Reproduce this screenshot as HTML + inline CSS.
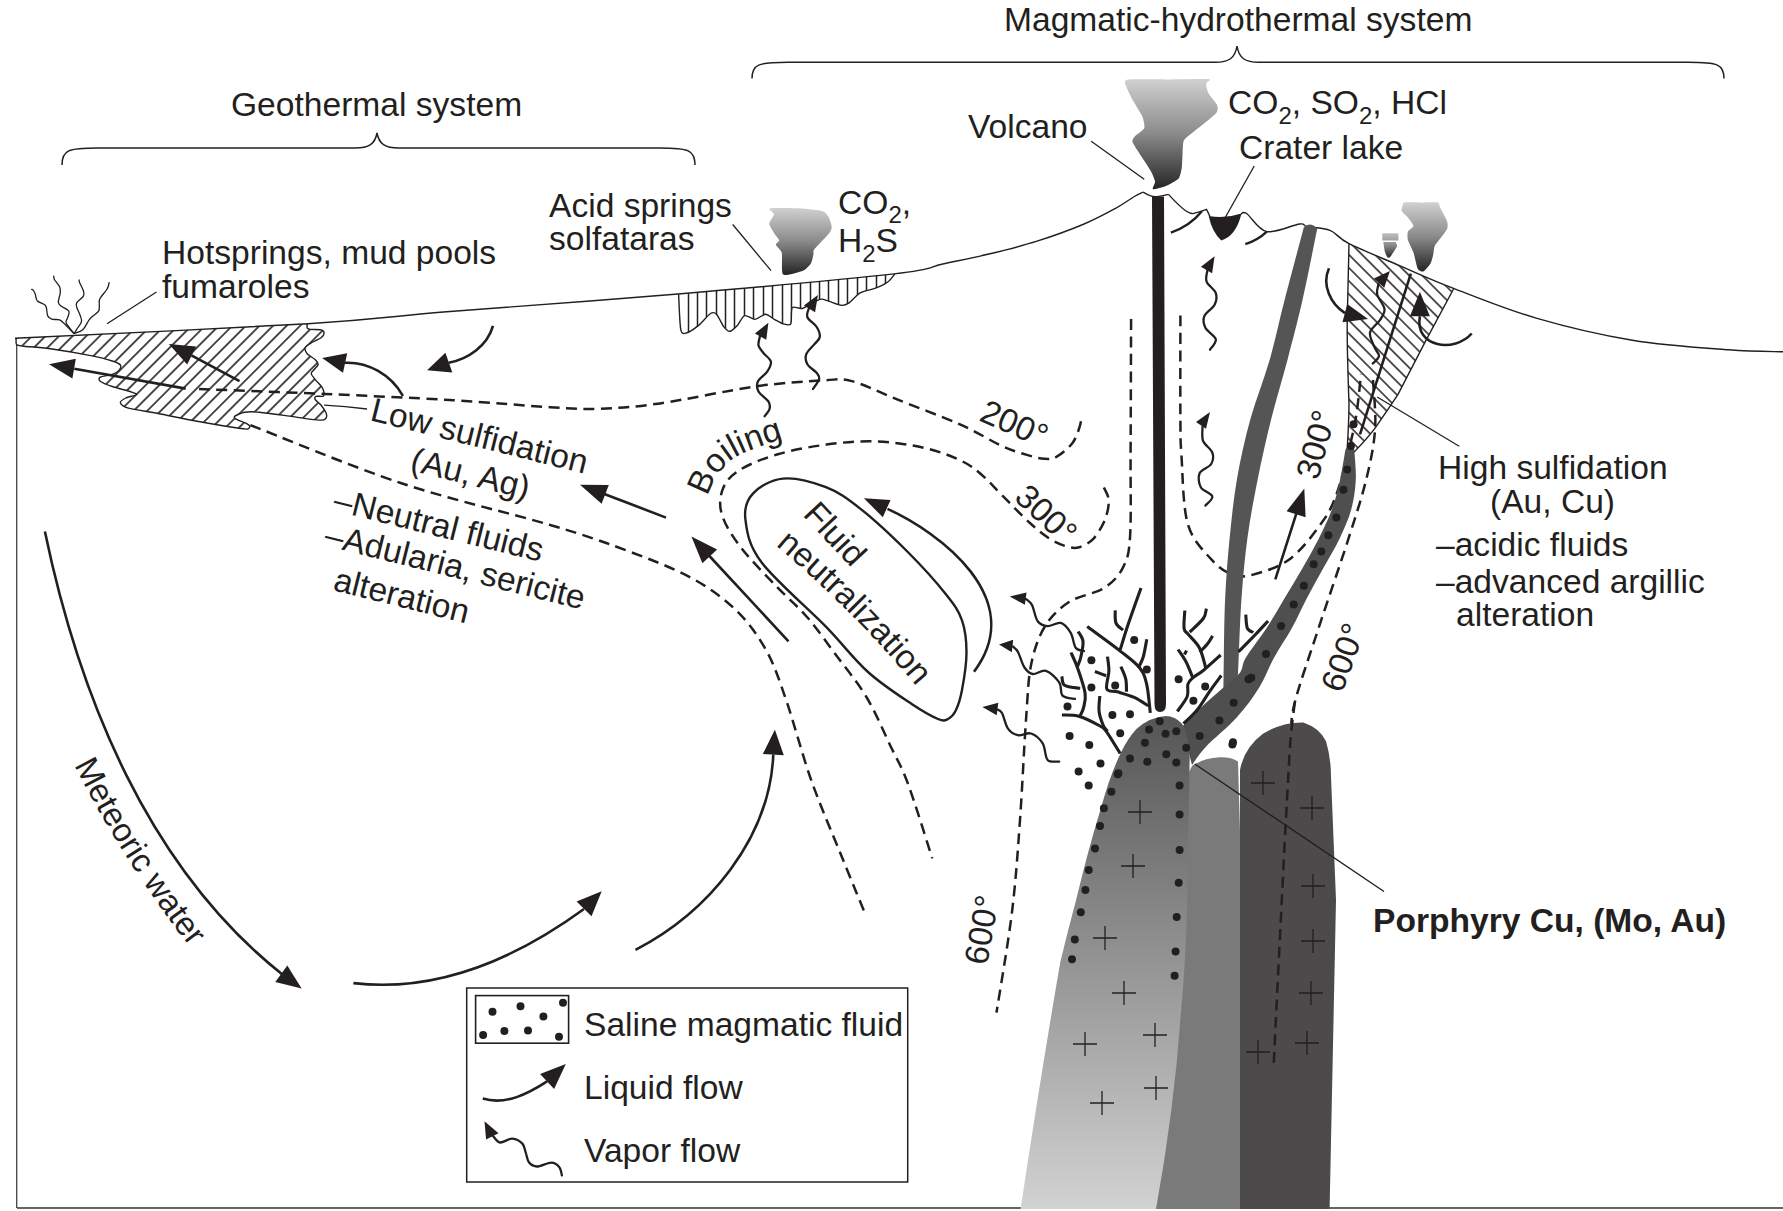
<!DOCTYPE html><html><head><meta charset="utf-8"><style>html,body{margin:0;padding:0;background:#fff;overflow:hidden}</style></head><body><svg width="1783" height="1211" viewBox="0 0 1783 1211" style="display:block">
<defs>
<pattern id="hatch1" patternUnits="userSpaceOnUse" width="9.6" height="9.6" patternTransform="rotate(45) translate(5.8,0)">
<line x1="4.8" y1="-1" x2="4.8" y2="11" stroke="#231f20" stroke-width="1.6"/></pattern>
<pattern id="hatch2" patternUnits="userSpaceOnUse" width="9.3" height="9.3" patternTransform="rotate(-45) translate(-2.83,0)">
<line x1="4.65" y1="-1" x2="4.65" y2="10.3" stroke="#231f20" stroke-width="1.5"/></pattern>
<pattern id="vhatch" patternUnits="userSpaceOnUse" width="9.4" height="9.4" x="687.5">
<line x1="0" y1="-1" x2="0" y2="10.4" stroke="#231f20" stroke-width="1.6"/></pattern>
<linearGradient id="plume" x1="0" y1="0" x2="0" y2="1">
<stop offset="0" stop-color="#c4c4c4"/><stop offset="0.5" stop-color="#7a7a7a"/><stop offset="1" stop-color="#1e1e1e"/></linearGradient>
<linearGradient id="intr1" gradientUnits="userSpaceOnUse" x1="0" y1="716" x2="0" y2="1208">
<stop offset="0" stop-color="#555"/><stop offset="1" stop-color="#d2d2d2"/></linearGradient>
<linearGradient id="intr2" gradientUnits="userSpaceOnUse" x1="0" y1="757" x2="0" y2="1208">
<stop offset="0" stop-color="#858585"/><stop offset="1" stop-color="#777"/></linearGradient>
</defs>
<rect width="1783" height="1211" fill="#fff"/>
<g font-family="&quot;Liberation Sans&quot;, sans-serif" fill="#231f20">
<line x1="16.7" y1="344.0" x2="16.7" y2="1208.0" stroke="#444" stroke-width="1.3"/>
<line x1="17.0" y1="1208.0" x2="1783.0" y2="1208.0" stroke="#333" stroke-width="1.6"/>
<path d="M62,165 C62,150 68,148 98,148 L355,148 C369,148 375,144 377,133 C379,144 385,148 399,148 L659,148 C689,148 695,150 695,165" fill="none" stroke="#231f20" stroke-width="1.5"/>
<path d="M752,78.5 C752,64.3 758,62.3 788,62.3 L1215,62.3 C1229,62.3 1235,58.3 1237,46 C1239,58.3 1245,62.3 1259,62.3 L1688,62.3 C1718,62.3 1724,64.3 1724,78.5" fill="none" stroke="#231f20" stroke-width="1.5"/>
<text x="231" y="116" font-size="33.6" font-weight="normal" text-anchor="start">Geothermal system</text>
<text x="1004" y="31" font-size="33.6" font-weight="normal" text-anchor="start">Magmatic-hydrothermal system</text>
<text x="162" y="264" font-size="33.6" font-weight="normal" text-anchor="start">Hotsprings, mud pools</text>
<text x="162" y="298" font-size="33.6" font-weight="normal" text-anchor="start">fumaroles</text>
<text x="549" y="217" font-size="33.6" font-weight="normal" text-anchor="start">Acid springs</text>
<text x="549" y="250" font-size="33.6" font-weight="normal" text-anchor="start">solfataras</text>
<text x="838" y="214" font-size="33.6" font-weight="normal" text-anchor="start">CO<tspan font-size="24" dy="9">2</tspan><tspan dy="-9">,</tspan></text>
<text x="838" y="252" font-size="33.6" font-weight="normal" text-anchor="start">H<tspan font-size="24" dy="10">2</tspan><tspan dy="-10">S</tspan></text>
<text x="968" y="138" font-size="33.6" font-weight="normal" text-anchor="start">Volcano</text>
<text x="1228" y="114" font-size="33.6" font-weight="normal" text-anchor="start">CO<tspan font-size="24" dy="9.5">2</tspan><tspan dy="-9.5">, SO</tspan><tspan font-size="24" dy="9.5">2</tspan><tspan dy="-9.5">, HCl</tspan></text>
<text x="1239" y="159" font-size="33.6" font-weight="normal" text-anchor="start">Crater lake</text>
<path d="M15.0,338.3 C63.8,335.9 235.5,328.2 308.0,323.7 C380.5,319.2 388.3,316.4 450.0,311.5 C511.7,306.6 604.0,300.3 678.0,294.0 C752.0,287.7 850.0,278.9 894.1,273.9 C938.2,268.9 926.8,267.4 942.8,264.0 C958.8,260.6 974.2,257.6 989.9,253.8 C1005.6,250.0 1021.3,246.2 1037.0,241.2 C1052.7,236.2 1071.0,229.5 1084.1,224.0 C1097.2,218.5 1107.2,212.9 1115.6,208.3 C1124.0,203.7 1129.8,199.2 1134.4,196.5 C1139.0,193.8 1141.6,192.8 1143.1,192.0" fill="none" stroke="#231f20" stroke-width="1.4"/>
<path d="M1143.1,192.1 Q1152,197.5 1157,196.6 Q1163,196 1168.5,194.4" fill="none" stroke="#231f20" stroke-width="1.4"/>
<path d="M1168.5,194.4 Q1180,207 1186,211 Q1190,213.6 1192.7,213.6 Q1200,212 1206.5,209.3 Q1208,212 1209.8,216.2" fill="none" stroke="#231f20" stroke-width="1.4"/>
<path d="M1241.0,214.0 C1241.9,213.9 1242.3,210.6 1246.6,213.5 C1250.9,216.4 1258.0,229.8 1266.8,231.6 C1275.6,233.3 1292.9,224.8 1299.6,224.0 C1306.3,223.2 1301.9,225.5 1307.0,226.6 C1312.1,227.7 1323.0,227.6 1330.0,230.4 C1337.0,233.2 1337.3,237.7 1349.0,243.6 C1360.7,249.5 1382.8,258.4 1400.2,265.9 C1417.6,273.3 1430.8,279.6 1453.5,288.3 C1476.2,297.0 1506.4,309.5 1536.2,318.1 C1566.0,326.8 1600.3,334.9 1632.4,340.2 C1664.5,345.5 1703.5,347.9 1728.6,349.8 C1753.7,351.7 1773.9,351.5 1783.0,351.8" fill="none" stroke="#231f20" stroke-width="1.4"/>
<path d="M1208.7,216 Q1225,219 1241.5,213.5 Q1236,236 1221.3,240.5 Q1212,232 1208.7,216Z" fill="#231f20"/>
<path d="M1170.9,232.7 Q1190,226 1201.9,211.3" fill="none" stroke="#231f20" stroke-width="2.4"/>
<path d="M1245.3,244.2 Q1258,240 1266.8,231.6" fill="none" stroke="#231f20" stroke-width="2.4"/>
<path d="M307.2,324.0 C307.2,324.5 306.8,327.2 307.2,327.9 C307.6,328.6 308.3,329.1 310.2,329.4 C312.1,329.7 319.2,329.4 321.1,329.9 C323.0,330.4 324.1,331.8 324.1,332.9 C324.1,334.0 322.8,336.5 321.1,337.8 C319.4,339.1 313.3,341.5 311.2,342.8 C309.1,344.1 305.7,346.2 305.2,347.7 C304.7,349.2 305.9,352.1 307.2,353.7 C308.5,355.3 313.6,358.1 315.1,359.6 C316.6,361.1 318.2,363.3 318.1,364.6 C318.0,365.9 315.1,368.3 314.2,369.5 C313.3,370.7 311.1,372.2 311.2,373.5 C311.3,374.8 313.6,377.5 315.1,379.4 C316.6,381.3 320.9,385.5 322.1,387.4 C323.3,389.3 324.0,392.1 324.1,393.3 C324.2,394.5 324.2,395.9 323.1,396.3 C322.0,396.7 317.2,395.9 316.1,396.3 C315.0,396.7 314.4,398.1 315.1,399.3 C315.8,400.5 319.6,403.4 321.1,405.2 C322.6,407.0 325.4,411.4 326.1,413.1 C326.8,414.8 326.6,417.2 326.1,418.1 C325.6,419.0 324.4,420.0 322.1,420.1 C319.8,420.2 313.6,419.6 309.2,419.1 C304.8,418.6 296.0,417.0 289.4,416.1 C282.8,415.2 265.5,412.7 259.6,412.2 C253.7,411.7 248.1,411.7 244.8,412.2 C241.5,412.7 236.1,415.2 234.9,416.1 C233.7,417.0 234.4,418.2 235.9,419.1 C237.4,420.0 244.0,422.2 245.8,423.1 C247.6,424.0 249.4,425.2 249.7,426.0 C250.0,426.8 249.3,428.7 247.8,429.0 C246.3,429.3 245.4,429.3 238.8,428.3 C232.2,427.3 209.3,423.5 198.5,421.5 C187.7,419.5 167.4,415.3 158.1,413.5 C148.8,411.7 133.5,409.5 128.5,408.1 C123.5,406.7 120.8,404.0 120.4,402.7 C120.0,401.4 123.7,399.1 125.8,398.0 C127.9,396.9 135.8,395.4 136.5,394.6 C137.2,393.8 134.3,393.0 131.1,391.9 C127.9,390.8 116.4,387.9 112.3,386.5 C108.2,385.1 101.8,382.5 100.2,381.2 C98.6,379.9 98.6,378.0 100.2,377.1 C101.8,376.2 109.8,375.3 112.3,374.4 C114.8,373.5 117.9,371.7 119.0,370.4 C120.1,369.1 121.3,366.3 120.4,365.0 C119.5,363.7 116.2,362.3 112.3,361.0 C108.4,359.7 99.1,357.2 90.8,355.6 C82.5,354.0 59.4,350.1 50.4,348.8 C41.4,347.5 28.0,346.7 23.5,346.2 C19.0,345.7 17.7,345.6 16.7,344.8 C15.7,344.0 16.2,340.9 16.1,340.0 C16.0,339.1 16.1,338.4 16.1,338.1 L307.2,324Z" fill="url(#hatch1)"/>
<path d="M307.2,324.0 C307.2,324.5 306.8,327.2 307.2,327.9 C307.6,328.6 308.3,329.1 310.2,329.4 C312.1,329.7 319.2,329.4 321.1,329.9 C323.0,330.4 324.1,331.8 324.1,332.9 C324.1,334.0 322.8,336.5 321.1,337.8 C319.4,339.1 313.3,341.5 311.2,342.8 C309.1,344.1 305.7,346.2 305.2,347.7 C304.7,349.2 305.9,352.1 307.2,353.7 C308.5,355.3 313.6,358.1 315.1,359.6 C316.6,361.1 318.2,363.3 318.1,364.6 C318.0,365.9 315.1,368.3 314.2,369.5 C313.3,370.7 311.1,372.2 311.2,373.5 C311.3,374.8 313.6,377.5 315.1,379.4 C316.6,381.3 320.9,385.5 322.1,387.4 C323.3,389.3 324.0,392.1 324.1,393.3 C324.2,394.5 324.2,395.9 323.1,396.3 C322.0,396.7 317.2,395.9 316.1,396.3 C315.0,396.7 314.4,398.1 315.1,399.3 C315.8,400.5 319.6,403.4 321.1,405.2 C322.6,407.0 325.4,411.4 326.1,413.1 C326.8,414.8 326.6,417.2 326.1,418.1 C325.6,419.0 324.4,420.0 322.1,420.1 C319.8,420.2 313.6,419.6 309.2,419.1 C304.8,418.6 296.0,417.0 289.4,416.1 C282.8,415.2 265.5,412.7 259.6,412.2 C253.7,411.7 248.1,411.7 244.8,412.2 C241.5,412.7 236.1,415.2 234.9,416.1 C233.7,417.0 234.4,418.2 235.9,419.1 C237.4,420.0 244.0,422.2 245.8,423.1 C247.6,424.0 249.4,425.2 249.7,426.0 C250.0,426.8 249.3,428.7 247.8,429.0 C246.3,429.3 245.4,429.3 238.8,428.3 C232.2,427.3 209.3,423.5 198.5,421.5 C187.7,419.5 167.4,415.3 158.1,413.5 C148.8,411.7 133.5,409.5 128.5,408.1 C123.5,406.7 120.8,404.0 120.4,402.7 C120.0,401.4 123.7,399.1 125.8,398.0 C127.9,396.9 135.8,395.4 136.5,394.6 C137.2,393.8 134.3,393.0 131.1,391.9 C127.9,390.8 116.4,387.9 112.3,386.5 C108.2,385.1 101.8,382.5 100.2,381.2 C98.6,379.9 98.6,378.0 100.2,377.1 C101.8,376.2 109.8,375.3 112.3,374.4 C114.8,373.5 117.9,371.7 119.0,370.4 C120.1,369.1 121.3,366.3 120.4,365.0 C119.5,363.7 116.2,362.3 112.3,361.0 C108.4,359.7 99.1,357.2 90.8,355.6 C82.5,354.0 59.4,350.1 50.4,348.8 C41.4,347.5 28.0,346.7 23.5,346.2 C19.0,345.7 17.7,345.6 16.7,344.8 C15.7,344.0 16.2,340.9 16.1,340.0 C16.0,339.1 16.1,338.4 16.1,338.1" fill="none" stroke="#231f20" stroke-width="1.4"/>
<clipPath id="aspclip"><path d="M894.8,274.1 C893.8,275.2 890.0,280.4 887.4,282.3 C884.8,284.2 879.1,286.8 875.5,288.2 C871.9,289.6 864.2,290.7 860.6,292.7 C857.0,294.7 851.3,301.4 848.7,303.1 C846.1,304.8 844.1,305.6 841.3,305.3 C838.5,305.0 830.8,301.7 827.9,300.9 C825.0,300.1 823.2,298.4 819.8,299.4 C816.4,300.4 806.4,307.2 802.7,308.3 C799.0,309.4 793.9,305.5 792.3,307.6 C790.7,309.7 792.0,321.7 790.8,323.9 C789.6,326.1 785.5,324.5 783.3,323.9 C781.1,323.3 776.8,320.7 774.4,319.4 C772.0,318.1 768.1,314.2 765.5,314.2 C762.9,314.2 757.9,319.2 755.1,319.4 C752.3,319.6 747.1,314.9 744.7,315.7 C742.3,316.5 739.3,323.3 737.3,325.4 C735.3,327.5 731.6,331.1 729.8,331.3 C728.0,331.5 725.7,329.2 723.9,326.9 C722.1,324.6 718.3,316.0 716.5,314.2 C714.7,312.4 712.9,312.0 710.5,313.5 C708.1,315.0 701.8,322.8 698.6,325.4 C695.4,328.0 689.2,332.2 686.8,332.8 C684.4,333.4 681.9,334.9 680.8,329.8 C679.7,324.7 678.9,298.9 678.6,294.2 L894.8,274.1Z"/></clipPath>
<path d="M688.5,270 V340 M697.5,270 V340 M706.5,270 V340 M716.5,270 V340 M725.5,270 V340 M734.5,270 V340 M744.5,270 V340 M753.5,270 V340 M763.5,270 V340 M772.5,270 V340 M782.5,270 V340 M791.5,270 V340 M800.5,270 V340 M810.5,270 V340 M819.5,270 V340 M828.5,270 V340 M838.5,270 V340 M847.5,270 V340 M857.5,270 V340 M866.5,270 V340 M876.5,270 V340 M885.5,270 V340 M894.5,270 V340 " stroke="#231f20" stroke-width="1.5" clip-path="url(#aspclip)"/>
<path d="M894.8,274.1 C893.8,275.2 890.0,280.4 887.4,282.3 C884.8,284.2 879.1,286.8 875.5,288.2 C871.9,289.6 864.2,290.7 860.6,292.7 C857.0,294.7 851.3,301.4 848.7,303.1 C846.1,304.8 844.1,305.6 841.3,305.3 C838.5,305.0 830.8,301.7 827.9,300.9 C825.0,300.1 823.2,298.4 819.8,299.4 C816.4,300.4 806.4,307.2 802.7,308.3 C799.0,309.4 793.9,305.5 792.3,307.6 C790.7,309.7 792.0,321.7 790.8,323.9 C789.6,326.1 785.5,324.5 783.3,323.9 C781.1,323.3 776.8,320.7 774.4,319.4 C772.0,318.1 768.1,314.2 765.5,314.2 C762.9,314.2 757.9,319.2 755.1,319.4 C752.3,319.6 747.1,314.9 744.7,315.7 C742.3,316.5 739.3,323.3 737.3,325.4 C735.3,327.5 731.6,331.1 729.8,331.3 C728.0,331.5 725.7,329.2 723.9,326.9 C722.1,324.6 718.3,316.0 716.5,314.2 C714.7,312.4 712.9,312.0 710.5,313.5 C708.1,315.0 701.8,322.8 698.6,325.4 C695.4,328.0 689.2,332.2 686.8,332.8 C684.4,333.4 681.9,334.9 680.8,329.8 C679.7,324.7 678.9,298.9 678.6,294.2" fill="none" stroke="#231f20" stroke-width="1.4"/>
<path d="M1453.5,289 L1425.3,341.7 L1398,394.4 Q1385,414 1374.5,428.9 Q1366,440 1353.6,452.5 Q1350,451 1347.2,448.9 Q1349,420 1349,403.5 Q1347,350 1347.2,321.7 Q1348,280 1349,243.6" fill="none" stroke="#231f20" stroke-width="1.4"/>
<path d="M1349,243.6 L1453.5,289 L1425.3,341.7 L1398,394.4 Q1385,414 1374.5,428.9 Q1366,440 1353.6,452.5 Q1350,451 1347.2,448.9 Q1349,420 1349,403.5 Q1347,350 1347.2,321.7 Q1348,280 1349,243.6Z" fill="url(#hatch2)"/>
<line x1="1410.8" y1="273.6" x2="1360.0" y2="434.3" stroke="#231f20" stroke-width="2.6"/>
<linearGradient id="pl34" gradientUnits="userSpaceOnUse" x1="0" y1="208.3" x2="0" y2="274.6"><stop offset="0" stop-color="#d0d0d0"/><stop offset="0.5" stop-color="#8a8a8a"/><stop offset="1" stop-color="#262425"/></linearGradient>
<path d="M769.9,208.3 C772.5,207.7 794.3,208.0 799.6,208.3 C804.9,208.6 819.8,210.3 822.7,211.2 C825.6,212.1 827.8,215.7 828.7,217.2 C829.6,218.7 831.6,224.8 831.7,226.4 C831.8,228.0 831.1,230.7 829.4,233.0 C827.6,235.3 815.8,247.4 814.2,249.5 C812.6,251.6 813.8,252.8 813.5,254.2 C813.2,255.6 812.0,261.8 810.9,263.4 C809.8,265.0 805.7,269.6 802.9,270.7 C800.1,271.8 785.2,276.4 783.1,274.6 C781.0,272.8 782.5,255.8 781.8,252.8 C781.1,249.8 776.2,246.2 775.9,244.9 C775.6,243.7 779.3,241.4 779.2,240.3 C779.1,239.2 775.5,235.3 774.5,233.7 C773.5,232.0 769.3,225.7 769.2,223.8 C769.1,221.9 773.8,216.1 773.9,214.5 C774.0,212.9 767.3,208.9 769.9,208.3Z" fill="url(#pl34)"/>
<linearGradient id="pl36" gradientUnits="userSpaceOnUse" x1="0" y1="79.1" x2="0" y2="189.1"><stop offset="0" stop-color="#d0d0d0"/><stop offset="0.5" stop-color="#8a8a8a"/><stop offset="1" stop-color="#262425"/></linearGradient>
<path d="M1127.2,79.7 C1131.4,79.0 1159.8,79.5 1168.0,79.4 C1176.2,79.3 1204.9,78.6 1208.7,79.1 C1212.5,79.6 1206.0,82.5 1206.0,84.0 C1206.0,85.5 1207.6,91.5 1208.7,93.6 C1209.8,95.7 1216.5,103.5 1217.3,105.4 C1218.1,107.3 1217.9,110.9 1216.3,112.9 C1214.7,114.9 1204.3,123.2 1201.2,125.8 C1198.1,128.4 1186.9,136.8 1185.1,138.7 C1183.3,140.6 1183.3,142.3 1183.0,145.1 C1182.7,147.9 1182.3,163.3 1181.9,166.6 C1181.5,169.9 1180.3,176.5 1178.7,178.4 C1177.1,180.3 1168.4,184.8 1165.8,185.9 C1163.2,187.0 1154.0,189.5 1152.9,189.1 C1151.8,188.7 1155.3,183.4 1155.1,181.6 C1154.9,179.8 1152.2,173.5 1150.8,170.9 C1149.4,168.3 1142.9,158.8 1141.1,155.9 C1139.3,153.0 1133.1,143.8 1132.5,141.9 C1131.9,140.0 1133.5,137.9 1134.7,136.5 C1135.9,135.1 1143.5,130.0 1144.3,128.0 C1145.0,126.0 1143.5,119.2 1142.2,116.2 C1140.9,113.2 1133.1,100.9 1131.5,97.9 C1129.9,94.9 1126.5,87.9 1126.1,86.1 C1125.7,84.3 1123.0,80.4 1127.2,79.7Z" fill="url(#pl36)"/>
<linearGradient id="plsmall" gradientUnits="userSpaceOnUse" x1="0" y1="233" x2="0" y2="257.5"><stop offset="0" stop-color="#c0c0c0"/><stop offset="0.5" stop-color="#8a8a8a"/><stop offset="1" stop-color="#2a2a2a"/></linearGradient>
<path d="M1382.3,233.3 L1398.4,233.3 L1398.4,240.6 L1382.3,240.6Z M1383.3,242 L1395.6,242 Q1398,246 1396.7,247 Q1393,253 1390.4,256.8 Q1388.5,258.5 1387.6,257.5 Q1385.5,254 1384.7,251.2Z" fill="url(#plsmall)"/>
<linearGradient id="pl40" gradientUnits="userSpaceOnUse" x1="0" y1="202.4" x2="0" y2="271.5"><stop offset="0" stop-color="#d0d0d0"/><stop offset="0.5" stop-color="#8a8a8a"/><stop offset="1" stop-color="#262425"/></linearGradient>
<path d="M1404.4,202.4 C1406.1,202.2 1416.7,202.4 1420.0,202.4 C1423.3,202.4 1435.7,201.9 1437.7,202.4 C1439.7,202.9 1439.2,205.7 1440.2,207.6 C1441.2,209.5 1446.5,219.6 1447.2,221.7 C1447.9,223.8 1447.9,227.0 1447.2,228.7 C1446.5,230.4 1441.5,236.8 1440.2,238.5 C1438.9,240.2 1435.3,244.6 1434.6,246.2 C1433.9,247.8 1433.6,252.9 1433.2,254.7 C1432.8,256.5 1431.4,262.1 1430.4,263.8 C1429.4,265.5 1424.7,271.0 1423.4,271.5 C1422.1,272.0 1418.7,270.6 1417.7,268.7 C1416.7,266.8 1414.5,255.5 1413.5,252.6 C1412.5,249.7 1408.5,242.0 1407.9,239.9 C1407.3,237.8 1407.3,232.9 1407.9,231.5 C1408.5,230.1 1413.5,227.3 1413.5,225.9 C1413.5,224.5 1409.1,219.0 1407.9,217.5 C1406.7,216.0 1402.1,212.4 1401.6,211.1 C1401.1,209.8 1402.7,205.0 1403.0,204.1 C1403.3,203.2 1402.7,202.6 1404.4,202.4Z" fill="url(#pl40)"/>
<path d="M74.2,333.7 C73.3,332.8 70.7,330.2 68.9,328.4 C67.1,326.6 65.2,324.5 63.6,323.1 C62.0,321.7 61.6,320.5 59.6,319.8 C57.6,319.1 53.7,319.9 51.7,319.2 C49.7,318.5 48.6,317.8 47.7,315.9 C46.8,314.0 47.0,309.8 46.4,307.9 C45.8,306.0 45.9,305.8 44.4,304.6 C42.9,303.4 38.7,302.4 37.2,300.7 C35.7,298.9 35.9,295.9 35.2,294.1 C34.5,292.3 33.9,290.9 33.2,290.1 C32.5,289.3 31.5,289.5 31.2,289.4" fill="none" stroke="#231f20" stroke-width="1.3"/>
<path d="M74.2,333.7 C72.9,331.9 67.3,325.7 66.2,323.1 C65.1,320.5 67.1,319.9 67.6,317.9 C68.0,315.9 70.0,313.2 68.9,311.2 C67.8,309.2 62.8,307.5 61.0,306.0 C59.2,304.5 58.4,304.2 58.3,302.0 C58.2,299.8 60.1,295.2 60.3,292.7 C60.5,290.2 60.6,289.0 59.6,286.8 C58.6,284.6 55.4,281.4 54.4,279.5 C53.4,277.6 53.8,276.2 53.7,275.6" fill="none" stroke="#231f20" stroke-width="1.3"/>
<path d="M74.2,333.7 C74.6,332.9 75.6,331.1 76.8,329.1 C78.0,327.1 80.9,324.1 81.4,321.8 C82.0,319.5 80.9,317.6 80.1,315.2 C79.3,312.8 77.3,309.4 76.8,307.3 C76.2,305.2 75.7,304.6 76.8,302.7 C77.9,300.8 82.3,298.1 83.4,296.1 C84.5,294.1 84.1,293.1 83.4,290.8 C82.8,288.5 80.2,284.1 79.5,282.2 C78.8,280.3 79.2,279.9 79.1,279.5" fill="none" stroke="#231f20" stroke-width="1.3"/>
<path d="M74.2,333.7 C75.6,333.0 80.4,331.9 82.8,329.7 C85.2,327.5 87.3,322.6 88.7,320.5 C90.1,318.4 89.8,318.8 91.4,317.2 C93.1,315.6 97.3,313.3 98.6,311.2 C99.9,309.1 99.1,306.7 99.3,304.6 C99.5,302.5 98.6,301.3 99.9,298.7 C101.2,296.1 105.7,291.6 107.2,288.8 C108.8,286.1 108.9,283.3 109.2,282.2" fill="none" stroke="#231f20" stroke-width="1.3"/>
<line x1="107.0" y1="323.7" x2="156.5" y2="292.0" stroke="#231f20" stroke-width="1.3"/>
<line x1="732.7" y1="224.5" x2="771.0" y2="270.6" stroke="#231f20" stroke-width="1.3"/>
<line x1="1091.2" y1="141.3" x2="1144.2" y2="179.2" stroke="#231f20" stroke-width="1.3"/>
<line x1="1254.2" y1="166.0" x2="1225.1" y2="217.7" stroke="#231f20" stroke-width="1.3"/>
<path d="M324.1,405.2 Q345,406.5 367,409" fill="none" stroke="#231f20" stroke-width="1.3"/>
<line x1="1377.2" y1="397.0" x2="1459.2" y2="446.3" stroke="#231f20" stroke-width="1.3"/>
<path d="M199.0,389.0 C220.0,389.8 283.2,392.2 325.0,394.0 C366.8,395.8 412.5,397.8 450.0,400.0 C487.5,402.2 525.2,405.7 550.0,407.2 C574.8,408.7 580.5,409.4 598.8,408.8 C617.1,408.2 633.7,407.1 660.0,403.4 C686.3,399.6 729.4,390.1 756.6,386.3 C783.9,382.5 807.6,381.3 823.5,380.4 C839.4,379.5 839.3,377.9 851.7,381.1 C864.1,384.3 879.8,392.5 897.8,399.7 C915.8,406.9 942.6,416.7 960.0,424.4 C977.4,432.1 991.1,441.1 1002.1,446.1 C1013.1,451.1 1019.0,452.5 1026.0,454.6 C1033.0,456.7 1039.1,458.5 1044.2,458.8 C1049.3,459.1 1052.1,459.3 1056.8,456.7 C1061.5,454.1 1068.5,448.1 1072.3,443.3 C1076.0,438.5 1077.7,432.6 1079.3,427.9 C1080.9,423.2 1081.6,417.4 1082.1,415.3" fill="none" stroke="#231f20" stroke-width="2.5" stroke-dasharray="11 6.5"/>
<path d="M250.4,425.1 C275.4,434.8 350.6,466.3 400.7,483.0 C450.8,499.7 513.5,514.0 551.0,525.2 C588.5,536.4 602.6,541.5 626.0,550.3 C649.4,559.1 672.8,567.8 691.2,577.8 C709.6,587.8 723.7,598.3 736.2,610.4 C748.7,622.5 757.9,635.5 766.3,650.5 C774.6,665.5 778.8,678.8 786.3,700.5 C793.8,722.2 802.2,754.8 811.4,780.7 C820.6,806.6 832.6,834.1 841.4,855.8 C850.2,877.5 860.2,901.7 864.0,910.9" fill="none" stroke="#231f20" stroke-width="2.5" stroke-dasharray="11 6.5"/>
<path d="M1103.9,487.5 C1104.7,489.7 1108.7,495.4 1108.8,500.9 C1108.9,506.4 1107.2,514.2 1104.6,520.5 C1102.0,526.8 1097.5,534.3 1093.3,538.8 C1089.1,543.2 1083.7,545.9 1079.3,547.2 C1074.9,548.5 1071.6,547.9 1066.7,546.5 C1061.8,545.1 1055.9,542.7 1049.8,538.8 C1043.7,534.9 1038.2,530.5 1030.2,523.3 C1022.2,516.0 1010.3,503.5 1002.1,495.3 C993.9,487.1 988.1,480.1 981.1,474.2 C974.1,468.3 969.5,464.6 960.0,460.2 C950.5,455.8 938.2,450.9 924.1,447.8 C910.0,444.7 891.6,441.8 875.3,441.3 C859.0,440.8 842.8,442.4 826.5,444.6 C810.2,446.8 792.3,450.0 777.7,454.3 C763.1,458.6 747.9,464.6 738.7,470.6 C729.5,476.6 725.1,482.5 722.4,490.1 C719.7,497.7 719.1,506.3 722.4,516.1 C725.6,525.9 732.7,536.8 741.9,548.7 C751.1,560.6 766.9,576.3 777.7,587.7 C788.6,599.1 797.3,605.8 807.0,617.0 C816.7,628.2 826.1,641.7 836.0,655.0 C845.9,668.3 857.4,682.0 866.4,697.0 C875.4,712.0 883.1,730.5 890.0,745.0 C896.9,759.5 901.0,764.9 908.0,783.8 C915.0,802.7 928.2,845.9 932.3,858.3" fill="none" stroke="#231f20" stroke-width="2.5" stroke-dasharray="11 6.5"/>
<path d="M1131.1,319.1 C1131.0,340.9 1130.8,413.9 1130.6,450.0 C1130.4,486.1 1131.3,516.4 1130.1,535.9 C1128.9,555.4 1127.5,558.4 1123.2,567.1 C1118.9,575.8 1113.1,582.2 1104.1,588.0 C1095.1,593.8 1079.2,595.4 1069.4,601.8 C1059.6,608.1 1051.5,615.7 1045.1,626.1 C1038.7,636.5 1034.4,648.6 1031.2,664.3 C1028.0,679.9 1027.9,694.0 1026.0,720.0 C1024.1,746.0 1022.3,788.0 1020.0,820.0 C1017.7,852.0 1015.9,879.9 1012.0,912.0 C1008.1,944.1 999.1,995.8 996.5,1012.6" fill="none" stroke="#231f20" stroke-width="2.5" stroke-dasharray="11 6.5"/>
<path d="M1180.4,315.6 C1180.4,333.0 1180.2,396.6 1180.4,420.0 C1180.6,443.4 1180.3,438.8 1181.5,456.1 C1182.7,473.4 1182.8,506.7 1187.8,524.0 C1192.8,541.3 1204.2,551.3 1211.6,559.7 C1219.0,568.1 1225.5,572.1 1232.4,574.6 C1239.3,577.1 1243.8,577.1 1253.2,574.6 C1262.6,572.1 1278.0,567.6 1288.9,559.7 C1299.8,551.8 1310.7,537.9 1318.6,527.0 C1326.5,516.1 1330.5,511.1 1336.5,494.3 C1342.5,477.5 1350.2,446.1 1354.3,426.0 C1358.4,405.9 1359.9,382.7 1361.0,374.0" fill="none" stroke="#231f20" stroke-width="2.5" stroke-dasharray="11 6.5"/>
<path d="M1373.0,380.0 C1373.3,388.1 1376.2,412.3 1375.1,428.9 C1374.0,445.5 1370.7,461.2 1366.2,479.5 C1361.8,497.8 1356.3,514.1 1348.4,538.9 C1340.5,563.7 1327.5,600.9 1318.6,628.1 C1309.7,655.4 1299.5,683.8 1294.8,702.4 C1290.1,721.0 1291.8,723.7 1290.5,740.0 C1289.2,756.3 1288.5,773.3 1287.0,800.0 C1285.5,826.7 1284.0,855.2 1281.8,900.0 C1279.5,944.8 1274.9,1040.5 1273.5,1068.6" fill="none" stroke="#231f20" stroke-width="2.5" stroke-dasharray="11 6.5"/>
<path d="M1192,766 Q1203,758 1220,757.2 Q1232,757 1238,761.5 L1242,900 L1242,1209 L1150,1209 Q1170,1110 1176,1016.7 Q1182,960 1183,900 L1185,780 Z" fill="#7a7a7a"/>
<path d="M1317.3,228.5 C1314.8,240.4 1307.5,278.2 1302.5,300.0 C1297.5,321.8 1292.8,339.6 1287.6,359.4 C1282.4,379.2 1276.2,399.0 1271.3,418.8 C1266.3,438.6 1261.9,458.4 1257.9,478.2 C1253.9,498.0 1250.2,517.8 1247.5,537.6 C1244.8,557.4 1243.1,576.6 1241.6,597.0 C1240.1,617.4 1239.4,642.5 1238.6,659.7 C1237.8,676.9 1237.3,693.3 1237.0,700.0 L1223.3,700 L1223.3,700.0 C1223.4,693.3 1223.5,676.9 1223.8,659.7 C1224.1,642.5 1224.2,617.4 1225.2,597.0 C1226.2,576.6 1227.7,557.4 1229.7,537.6 C1231.7,517.8 1233.6,498.0 1237.1,478.2 C1240.6,458.4 1245.0,438.6 1250.5,418.8 C1256.0,399.0 1264.1,379.2 1269.8,359.4 C1275.5,339.6 1278.9,322.0 1284.6,300.0 C1290.3,278.0 1300.6,239.6 1303.8,227.5 Q1310,221 1317.3,228.5Z" fill="#555"/>
<path d="M1354.3,449.7 C1354.5,454.7 1356.3,469.6 1355.8,479.5 C1355.3,489.4 1354.0,499.3 1351.3,509.2 C1348.6,519.1 1344.1,529.0 1339.4,538.9 C1334.7,548.8 1328.5,558.7 1323.1,568.6 C1317.6,578.5 1311.9,588.5 1306.7,598.4 C1301.5,608.3 1297.4,618.2 1291.9,628.1 C1286.5,638.0 1279.5,647.9 1274.0,657.8 C1268.5,667.7 1265.4,677.6 1259.2,687.5 C1253.0,697.4 1245.8,707.4 1236.9,717.3 C1228.0,727.2 1213.2,739.0 1205.7,747.0 C1198.2,755.0 1194.3,762.0 1192.0,765.0 L1182,727 L1182.0,727.0 C1184.5,724.4 1189.9,717.9 1196.8,711.3 C1203.7,704.7 1216.3,693.9 1223.5,687.5 C1230.7,681.1 1236.2,677.7 1239.9,672.7 C1243.6,667.8 1241.3,665.2 1245.8,657.8 C1250.2,650.4 1260.2,638.0 1266.6,628.1 C1273.0,618.2 1278.5,608.3 1284.4,598.4 C1290.4,588.5 1296.6,578.5 1302.3,568.6 C1308.0,558.7 1313.6,548.8 1318.6,538.9 C1323.5,529.0 1328.4,519.0 1332.0,509.2 C1335.6,499.4 1337.8,489.9 1340.0,480.0 C1342.2,470.1 1344.5,454.8 1345.4,449.7 Q1350,442 1354.3,449.7Z" fill="#4f4f4f"/>
<path d="M1165.7,716 Q1150,717 1136.7,728.7 Q1128,738 1121.5,751.4 Q1110,775 1101.3,807 Q1088,850 1076.1,900 Q1068,930 1060.3,962 Q1040,1080 1020.6,1209 L1156,1209 Q1174,1110 1180.6,1016.7 Q1186,960 1187.2,900 L1189.7,756.5 Q1188,733 1182,723.7 Q1175,716 1165.7,716Z" fill="url(#intr1)"/>
<path d="M1240,770 Q1244,748 1262.9,733.8 Q1282,722 1303.3,722.4 Q1320,728 1326,741.3 Q1331,758 1331,776.7 L1336,900 L1329.6,1209 L1240,1209 L1240,770Z" fill="#4c4a4a"/>
<path d="M1152,196.4 L1164,196.4 L1166,704 Q1166,712 1160,712 Q1154.5,712 1154.5,704Z" fill="#231f20"/>
<path d="M1294.8,702.4 C1294.1,708.7 1291.8,723.7 1290.5,740.0 C1289.2,756.3 1288.5,773.3 1287.0,800.0 C1285.5,826.7 1284.0,855.2 1281.8,900.0 C1279.5,944.8 1274.9,1040.5 1273.5,1068.6" fill="none" stroke="#231f20" stroke-width="2.5" stroke-dasharray="11 6.5"/>
<path d="M1128,812 H1152 M1140,800 V824" stroke="#231f20" stroke-width="1.3"/>
<path d="M1121,866 H1145 M1133,854 V878" stroke="#231f20" stroke-width="1.3"/>
<path d="M1093,938 H1117 M1105,926 V950" stroke="#231f20" stroke-width="1.3"/>
<path d="M1112,993 H1136 M1124,981 V1005" stroke="#231f20" stroke-width="1.3"/>
<path d="M1073,1044 H1097 M1085,1032 V1056" stroke="#231f20" stroke-width="1.3"/>
<path d="M1143,1035 H1167 M1155,1023 V1047" stroke="#231f20" stroke-width="1.3"/>
<path d="M1090,1103 H1114 M1102,1091 V1115" stroke="#231f20" stroke-width="1.3"/>
<path d="M1144,1088 H1168 M1156,1076 V1100" stroke="#231f20" stroke-width="1.3"/>
<path d="M1251,783 H1275 M1263,771 V795" stroke="#231f20" stroke-width="1.3"/>
<path d="M1300,808 H1324 M1312,796 V820" stroke="#231f20" stroke-width="1.3"/>
<path d="M1301,886 H1325 M1313,874 V898" stroke="#231f20" stroke-width="1.3"/>
<path d="M1301,941 H1325 M1313,929 V953" stroke="#231f20" stroke-width="1.3"/>
<path d="M1299,993 H1323 M1311,981 V1005" stroke="#231f20" stroke-width="1.3"/>
<path d="M1295,1043 H1319 M1307,1031 V1055" stroke="#231f20" stroke-width="1.3"/>
<path d="M1246,1052 H1270 M1258,1040 V1064" stroke="#231f20" stroke-width="1.3"/>
<circle cx="1117.7" cy="774.2" r="4" fill="#231f20"/>
<circle cx="1111.4" cy="791.8" r="4" fill="#231f20"/>
<circle cx="1103.9" cy="808.2" r="4" fill="#231f20"/>
<circle cx="1100" cy="825.9" r="4" fill="#231f20"/>
<circle cx="1095" cy="848.6" r="4" fill="#231f20"/>
<circle cx="1088.7" cy="870" r="4" fill="#231f20"/>
<circle cx="1085.4" cy="890" r="4" fill="#231f20"/>
<circle cx="1080.8" cy="912.3" r="4" fill="#231f20"/>
<circle cx="1074.8" cy="939.6" r="4" fill="#231f20"/>
<circle cx="1072" cy="959.3" r="4" fill="#231f20"/>
<circle cx="1179.6" cy="785.5" r="4" fill="#231f20"/>
<circle cx="1179.6" cy="814.5" r="4" fill="#231f20"/>
<circle cx="1179.6" cy="849.9" r="4" fill="#231f20"/>
<circle cx="1178.7" cy="882.7" r="4" fill="#231f20"/>
<circle cx="1176.7" cy="917" r="4" fill="#231f20"/>
<circle cx="1175.6" cy="951.6" r="4" fill="#231f20"/>
<circle cx="1174.6" cy="975.7" r="4" fill="#231f20"/>
<circle cx="1159.7" cy="721.3" r="4" fill="#231f20"/>
<circle cx="1149" cy="729.6" r="4" fill="#231f20"/>
<circle cx="1165.5" cy="733.7" r="4" fill="#231f20"/>
<circle cx="1176.3" cy="731.2" r="4" fill="#231f20"/>
<circle cx="1144.9" cy="742.8" r="4" fill="#231f20"/>
<circle cx="1186.2" cy="747.7" r="4" fill="#231f20"/>
<circle cx="1130" cy="758.5" r="4" fill="#231f20"/>
<circle cx="1147.3" cy="761.8" r="4" fill="#231f20"/>
<circle cx="1166.3" cy="754.3" r="4" fill="#231f20"/>
<circle cx="1176.3" cy="762.6" r="4" fill="#231f20"/>
<circle cx="1118.4" cy="773.3" r="4" fill="#231f20"/>
<circle cx="1347.2" cy="469.6" r="4" fill="#231f20"/>
<circle cx="1343.4" cy="489.8" r="4" fill="#231f20"/>
<circle cx="1336.4" cy="517.6" r="4" fill="#231f20"/>
<circle cx="1328.3" cy="535.2" r="4" fill="#231f20"/>
<circle cx="1321.2" cy="551.6" r="4" fill="#231f20"/>
<circle cx="1313.7" cy="564.2" r="4" fill="#231f20"/>
<circle cx="1303.8" cy="585.7" r="4" fill="#231f20"/>
<circle cx="1293.7" cy="604.6" r="4" fill="#231f20"/>
<circle cx="1281.1" cy="626" r="4" fill="#231f20"/>
<circle cx="1266" cy="653.9" r="4" fill="#231f20"/>
<circle cx="1251.3" cy="677.8" r="4" fill="#231f20"/>
<circle cx="1134.2" cy="639.9" r="4" fill="#231f20"/>
<circle cx="1091.4" cy="660.2" r="4" fill="#231f20"/>
<circle cx="1146.8" cy="669.4" r="4" fill="#231f20"/>
<circle cx="1115.2" cy="685.5" r="4" fill="#231f20"/>
<circle cx="1091.4" cy="687.6" r="4" fill="#231f20"/>
<circle cx="1067.5" cy="706.5" r="4" fill="#231f20"/>
<circle cx="1112.4" cy="715" r="4" fill="#231f20"/>
<circle cx="1130" cy="714.3" r="4" fill="#231f20"/>
<circle cx="1069.6" cy="736" r="4" fill="#231f20"/>
<circle cx="1120.2" cy="733.2" r="4" fill="#231f20"/>
<circle cx="1089.3" cy="745.1" r="4" fill="#231f20"/>
<circle cx="1100.5" cy="763.4" r="4" fill="#231f20"/>
<circle cx="1178.6" cy="679.2" r="4" fill="#231f20"/>
<circle cx="1205.2" cy="686.6" r="4" fill="#231f20"/>
<circle cx="1193.4" cy="700.8" r="4" fill="#231f20"/>
<circle cx="1232.4" cy="744.4" r="4" fill="#231f20"/>
<circle cx="1078.6" cy="771.6" r="4" fill="#231f20"/>
<circle cx="1088.7" cy="785.5" r="4" fill="#231f20"/>
<circle cx="1233.7" cy="702.7" r="4" fill="#231f20"/>
<circle cx="1219.4" cy="720.6" r="4" fill="#231f20"/>
<circle cx="1199.6" cy="736.1" r="4" fill="#231f20"/>
<circle cx="1233" cy="742.3" r="4" fill="#231f20"/>
<circle cx="1248.5" cy="679.2" r="4" fill="#231f20"/>
<circle cx="1353.6" cy="424.3" r="4" fill="#231f20"/>
<circle cx="1350.9" cy="446.1" r="4" fill="#231f20"/>
<line x1="1194.7" y1="764.0" x2="1384.0" y2="891.5" stroke="#231f20" stroke-width="1.4"/>
<path d="M1141.0,588.0 C1138.9,593.9 1132.1,612.8 1128.6,623.1 C1125.1,633.4 1121.6,645.3 1120.2,649.7" fill="none" stroke="#231f20" stroke-width="3.1" stroke-linecap="butt"/>
<path d="M1115.2,610.4 C1115.3,612.5 1114.7,619.8 1116.0,623.1 C1117.3,626.4 1121.8,628.9 1123.0,630.1" fill="none" stroke="#231f20" stroke-width="3.1" stroke-linecap="butt"/>
<path d="M1087.2,626.6 C1092.7,630.7 1111.4,644.2 1120.2,651.1 C1129.0,658.0 1135.4,662.4 1139.8,668.0 C1144.2,673.6 1145.0,677.3 1146.8,684.8 C1148.5,692.3 1149.7,708.2 1150.3,712.9" fill="none" stroke="#231f20" stroke-width="3.1" stroke-linecap="butt"/>
<path d="M1146.8,639.2 C1146.2,642.1 1144.7,651.9 1143.3,656.7 C1141.9,661.5 1139.2,666.1 1138.4,668.0" fill="none" stroke="#231f20" stroke-width="3.1" stroke-linecap="butt"/>
<path d="M1107.5,656.7 C1107.7,659.1 1109.0,665.4 1108.9,670.8 C1108.8,676.2 1105.4,685.5 1106.8,689.0 C1108.2,692.5 1112.7,690.4 1117.3,691.8 C1121.9,693.2 1129.0,695.1 1134.2,697.4 C1139.4,699.7 1145.9,704.4 1148.2,705.8" fill="none" stroke="#231f20" stroke-width="3.1" stroke-linecap="butt"/>
<path d="M1094.9,671.5 C1096.8,672.2 1104.2,675.0 1106.1,675.7" fill="none" stroke="#231f20" stroke-width="3.1" stroke-linecap="butt"/>
<path d="M1120.9,666.6 C1121.7,668.7 1124.9,675.0 1125.8,679.2 C1126.7,683.4 1126.4,689.7 1126.5,691.8" fill="none" stroke="#231f20" stroke-width="3.1" stroke-linecap="butt"/>
<path d="M1078.1,631.5 C1078.9,633.1 1082.5,637.1 1083.0,641.3 C1083.5,645.5 1081.8,652.5 1080.9,656.7 C1080.0,660.9 1078.0,665.0 1077.4,666.6" fill="none" stroke="#231f20" stroke-width="3.1" stroke-linecap="butt"/>
<path d="M1071.0,652.5 C1072.2,655.3 1075.8,662.6 1078.1,669.4 C1080.4,676.2 1084.2,686.9 1085.1,693.2 C1086.0,699.5 1084.5,703.5 1083.7,707.2 C1082.9,711.0 1080.8,714.3 1080.2,715.7" fill="none" stroke="#231f20" stroke-width="3.1" stroke-linecap="butt"/>
<path d="M1061.9,676.4 C1062.2,677.8 1062.0,682.9 1064.0,684.8 C1066.0,686.7 1071.2,687.0 1073.9,687.6 C1076.6,688.2 1079.2,688.2 1080.2,688.3" fill="none" stroke="#231f20" stroke-width="3.1" stroke-linecap="butt"/>
<path d="M1061.9,715.0 C1064.8,715.2 1073.3,714.6 1079.5,716.4 C1085.7,718.1 1094.7,723.0 1099.1,725.5 C1103.5,728.0 1102.6,726.4 1106.1,731.1 C1109.6,735.8 1117.8,749.8 1120.2,753.5" fill="none" stroke="#231f20" stroke-width="3.1" stroke-linecap="butt"/>
<path d="M1099.8,696.0 C1099.7,698.6 1098.5,706.6 1099.1,711.5 C1099.7,716.4 1101.9,722.2 1103.3,725.5 C1104.7,728.8 1106.8,730.2 1107.5,731.1" fill="none" stroke="#231f20" stroke-width="3.1" stroke-linecap="butt"/>
<path d="M1184.8,610.5 C1184.7,613.5 1183.5,624.4 1184.1,628.4 C1184.7,632.4 1185.9,631.3 1188.5,634.6 C1191.1,637.9 1196.7,642.6 1199.6,648.2 C1202.5,653.8 1204.8,664.7 1205.8,668.0" fill="none" stroke="#231f20" stroke-width="3.1" stroke-linecap="butt"/>
<path d="M1206.4,608.6 C1205.9,610.2 1206.1,614.6 1203.3,618.5 C1200.5,622.4 1192.0,629.8 1189.7,632.1" fill="none" stroke="#231f20" stroke-width="3.1" stroke-linecap="butt"/>
<path d="M1212.6,635.9 C1211.7,637.3 1209.2,641.8 1207.0,644.5 C1204.8,647.2 1200.8,650.8 1199.6,652.0" fill="none" stroke="#231f20" stroke-width="3.1" stroke-linecap="butt"/>
<path d="M1220.7,655.0 C1217.8,657.6 1207.8,666.8 1203.3,670.5 C1198.8,674.2 1196.0,675.0 1193.4,677.3 C1190.8,679.6 1188.9,680.9 1187.9,684.1 C1186.9,687.3 1189.0,692.0 1187.2,696.5 C1185.4,701.0 1179.0,708.9 1177.3,711.4" fill="none" stroke="#231f20" stroke-width="3.1" stroke-linecap="butt"/>
<path d="M1178.0,649.5 C1179.3,651.5 1183.5,657.1 1186.0,661.8 C1188.5,666.5 1191.7,675.2 1192.8,677.9" fill="none" stroke="#231f20" stroke-width="3.1" stroke-linecap="butt"/>
<path d="M1186.6,650.7 C1186.2,651.3 1184.8,653.9 1184.5,654.5" fill="none" stroke="#231f20" stroke-width="3.1" stroke-linecap="butt"/>
<path d="M1221.3,675.5 C1219.3,678.2 1213.5,685.8 1209.5,691.6 C1205.5,697.4 1201.4,704.8 1197.1,710.1 C1192.8,715.5 1185.8,721.4 1183.5,723.7" fill="none" stroke="#231f20" stroke-width="3.1" stroke-linecap="butt"/>
<path d="M1245.8,614.7 C1246.0,616.9 1246.1,625.1 1247.3,628.1 C1248.5,631.1 1252.2,631.8 1253.2,632.5" fill="none" stroke="#231f20" stroke-width="3.1" stroke-linecap="butt"/>
<path d="M1238.4,651.9 C1241.2,649.1 1250.0,640.1 1255.0,635.0 C1260.0,629.9 1265.9,623.3 1268.1,621.0" fill="none" stroke="#231f20" stroke-width="3.1" stroke-linecap="butt"/>
<polygon points="168.8,344.1 196.1,346.5 187.2,364.4" fill="#231f20"/>
<path d="M239.5,381.2 L191.4,355.3" fill="none" stroke="#231f20" stroke-width="2.6"/>
<polygon points="49.0,364.3 75.8,358.8 72.4,378.5" fill="#231f20"/>
<path d="M185.7,388.6 L74.3,368.7" fill="none" stroke="#231f20" stroke-width="2.6"/>
<polygon points="322.1,358.1 347.2,353.3 343.0,372.8" fill="#231f20"/>
<path d="M402.9,395.8 C391.0,374.9 368.3,361.4 344.0,362.8" fill="none" stroke="#231f20" stroke-width="2.6"/>
<polygon points="427.1,370.2 445.4,352.8 452.3,372.6" fill="#231f20"/>
<path d="M493.0,325.8 C487.3,346.0 468.1,358.9 448.6,362.8" fill="none" stroke="#231f20" stroke-width="2.6"/>
<polygon points="580.0,484.7 608.8,485.0 601.6,503.7" fill="#231f20"/>
<path d="M666.0,517.6 C654.6,513.2 609.0,495.8 597.7,491.5" fill="none" stroke="#231f20" stroke-width="2.6"/>
<polygon points="691.4,536.6 717.1,549.6 702.4,563.2" fill="#231f20"/>
<path d="M788.5,641.3 C774.5,626.2 718.3,565.6 704.3,550.5" fill="none" stroke="#231f20" stroke-width="2.6"/>
<polygon points="863.9,498.3 890.6,499.9 882.8,517.2" fill="#231f20"/>
<path d="M974.0,671.8 C1029.2,598.1 938.3,532.0 887.5,508.9" fill="none" stroke="#231f20" stroke-width="2.6"/>
<polygon points="1304.3,488.5 1305.6,517.3 1286.6,511.2" fill="#231f20"/>
<path d="M1275.3,579.4 C1279.2,567.3 1294.7,518.7 1298.6,506.5" fill="none" stroke="#231f20" stroke-width="2.6"/>
<polygon points="1368.1,319.0 1342.5,322.3 1347.2,303.9" fill="#231f20"/>
<path d="M1329.0,268.2 C1321.5,285.0 1330.6,304.1 1345.0,313.1" fill="none" stroke="#231f20" stroke-width="2.6"/>
<polygon points="1419.9,291.8 1429.9,316.3 1409.9,316.3" fill="#231f20"/>
<path d="M1471.7,333.5 C1454.9,352.7 1414.2,348.1 1419.9,316.3" fill="none" stroke="#231f20" stroke-width="2.6"/>
<polygon points="301.6,988.4 275.3,982.1 287.3,965.5" fill="#231f20"/>
<path d="M44.9,531.5 C79.1,695.8 148.1,868.2 283.0,975.0" fill="none" stroke="#231f20" stroke-width="2.6"/>
<polygon points="601.7,891.2 591.5,916.3 576.6,901.5" fill="#231f20"/>
<path d="M353.4,983.1 C438.3,993.1 517.7,957.3 584.0,909.0" fill="none" stroke="#231f20" stroke-width="2.6"/>
<polygon points="774.9,729.7 783.8,755.3 762.8,754.0" fill="#231f20"/>
<path d="M635.5,949.8 C708.1,912.2 769.8,838.9 773.3,754.5" fill="none" stroke="#231f20" stroke-width="2.6"/>
<polygon points="768.4,322.7 766.3,339.8 754.9,333.4" fill="#231f20"/>
<path d="M764.7,416.2 C765.5,415.0 769.0,411.3 769.6,408.8 C770.2,406.3 770.2,404.3 768.4,401.4 C766.5,398.5 760.2,394.8 758.5,391.5 C756.8,388.2 756.4,384.8 757.9,381.5 C759.4,378.2 765.0,374.9 767.2,371.6 C769.4,368.3 771.5,364.8 770.9,361.7 C770.3,358.6 765.5,355.7 763.4,353.0 C761.3,350.3 759.1,348.4 758.5,345.6 C757.9,342.8 759.8,337.6 760.0,336.0" fill="none" stroke="#231f20" stroke-width="2.3" stroke-linecap="round"/>
<polygon points="817.9,294.9 815.1,312.2 803.9,305.4" fill="#231f20"/>
<path d="M813.0,389.0 C814.0,387.3 818.6,381.7 819.2,379.0 C819.8,376.3 818.7,375.4 816.7,372.9 C814.7,370.4 809.1,367.3 807.4,364.2 C805.6,361.1 805.1,357.6 806.2,354.3 C807.3,351.0 811.9,347.3 814.2,344.4 C816.5,341.5 819.4,339.9 819.8,337.0 C820.2,334.1 818.8,330.3 816.7,327.0 C814.6,323.7 808.7,320.4 807.4,317.2 C806.1,314.0 808.7,309.5 809.0,308.0" fill="none" stroke="#231f20" stroke-width="2.3" stroke-linecap="round"/>
<polygon points="1214.6,256.2 1212.1,273.3 1200.9,266.7" fill="#231f20"/>
<path d="M1210.0,349.7 C1211.0,348.0 1216.6,342.9 1215.8,339.3 C1215.0,335.7 1207.3,331.7 1205.4,327.8 C1203.5,323.9 1202.8,320.1 1204.3,316.2 C1205.8,312.3 1212.7,308.5 1214.6,304.7 C1216.5,300.9 1217.1,297.0 1215.8,293.1 C1214.5,289.2 1208.0,285.5 1206.6,281.6 C1205.2,277.8 1207.3,271.9 1207.5,270.0" fill="none" stroke="#231f20" stroke-width="2.3" stroke-linecap="round"/>
<polygon points="1210.0,412.1 1206.0,428.8 1196.0,422.0" fill="#231f20"/>
<path d="M1205.4,505.6 C1206.6,504.1 1213.1,499.5 1212.3,496.4 C1211.5,493.3 1202.9,491.0 1200.8,487.2 C1198.7,483.4 1197.9,477.2 1199.6,473.3 C1201.3,469.4 1209.1,467.5 1211.2,464.0 C1213.3,460.5 1213.7,456.3 1212.3,452.5 C1210.9,448.7 1204.7,445.2 1203.1,441.0 C1201.5,436.8 1202.6,429.3 1202.5,427.0" fill="none" stroke="#231f20" stroke-width="2.3" stroke-linecap="round"/>
<polygon points="1390.0,270.9 1384.2,287.8 1373.8,278.4" fill="#231f20"/>
<path d="M1372.7,363.5 C1373.8,362.3 1378.7,358.9 1379.0,356.2 C1379.3,353.5 1376.0,351.1 1374.5,347.2 C1373.0,343.3 1369.1,337.1 1370.0,332.6 C1370.9,328.1 1377.6,323.9 1380.0,320.0 C1382.4,316.1 1385.0,313.2 1384.5,309.0 C1384.0,304.8 1378.2,298.7 1377.2,294.5 C1376.2,290.3 1378.3,285.8 1378.5,284.0" fill="none" stroke="#231f20" stroke-width="2.3" stroke-linecap="round"/>
<polygon points="1009.7,596.5 1026.5,592.4 1024.9,604.8" fill="#231f20"/>
<path d="M1084.0,651.0 C1082.6,650.5 1077.9,650.7 1075.7,647.7 C1073.5,644.7 1073.2,636.9 1070.7,632.8 C1068.2,628.7 1064.7,624.0 1060.8,622.9 C1056.9,621.8 1051.4,626.5 1047.6,626.2 C1043.8,625.9 1040.3,624.8 1037.7,621.3 C1035.1,617.8 1034.0,608.7 1032.0,605.0 C1030.0,601.3 1027.0,600.0 1026.0,599.0" fill="none" stroke="#231f20" stroke-width="2.3" stroke-linecap="round"/>
<polygon points="999.0,644.4 1013.2,639.8 1011.8,652.2" fill="#231f20"/>
<path d="M1074.9,698.9 C1072.8,698.4 1065.1,698.4 1062.5,695.6 C1059.9,692.8 1062.0,686.4 1059.2,682.3 C1056.5,678.2 1050.4,672.2 1046.0,670.8 C1041.6,669.4 1036.4,674.5 1032.8,674.0 C1029.2,673.5 1027.0,671.2 1024.5,667.5 C1022.0,663.8 1019.9,655.5 1018.0,652.0 C1016.1,648.5 1013.8,647.4 1013.0,646.5" fill="none" stroke="#231f20" stroke-width="2.3" stroke-linecap="round"/>
<polygon points="982.4,707.1 998.3,702.8 996.7,715.2" fill="#231f20"/>
<path d="M1059.2,761.6 C1057.3,761.3 1050.3,762.9 1047.6,759.9 C1044.8,756.9 1045.5,747.8 1042.7,743.4 C1040.0,739.0 1035.2,734.9 1031.1,733.5 C1027.0,732.1 1021.8,736.0 1017.9,735.2 C1014.0,734.4 1010.6,732.3 1008.0,728.6 C1005.4,724.9 1003.8,716.2 1002.0,713.0 C1000.2,709.8 998.2,710.1 997.5,709.5" fill="none" stroke="#231f20" stroke-width="2.3" stroke-linecap="round"/>
<path d="M745.4,519.4 C744.0,507.9 746.6,500.4 752.9,493.6 C759.2,486.8 770.8,479.7 783.0,478.6 C795.2,477.5 813.0,482.2 825.9,487.2 C838.8,492.2 846.6,497.8 860.2,508.6 C873.9,519.4 893.5,537.7 907.8,552.0 C922.1,566.3 937.1,583.1 946.1,594.5 C955.1,605.9 958.6,610.6 962.0,620.3 C965.4,630.0 966.5,640.9 966.5,652.5 C966.5,664.1 963.8,680.4 962.0,690.0 C960.2,699.6 958.3,705.2 956.0,710.0 C953.7,714.8 951.0,717.5 948.0,719.0 C945.0,720.5 944.0,721.5 938.0,719.0 C932.0,716.5 923.4,711.8 911.7,704.0 C900.0,696.2 882.3,684.9 868.0,672.0 C853.7,659.1 843.6,645.0 825.9,626.7 C808.1,608.4 774.9,580.2 761.5,562.3 C748.1,544.4 746.8,530.8 745.4,519.4Z" fill="none" stroke="#231f20" stroke-width="2.4"/>
<rect x="466.7" y="988" width="441" height="194" fill="#fff" stroke="#231f20" stroke-width="1.5"/>
<rect x="475.6" y="995.6" width="93" height="47.6" fill="none" stroke="#231f20" stroke-width="1.6"/>
<circle cx="492.5" cy="1011.7" r="4" fill="#231f20"/>
<circle cx="520.5" cy="1006.3" r="4" fill="#231f20"/>
<circle cx="563" cy="1002.8" r="4" fill="#231f20"/>
<circle cx="543.4" cy="1016.6" r="4" fill="#231f20"/>
<circle cx="483.1" cy="1035.1" r="4" fill="#231f20"/>
<circle cx="504.4" cy="1031.1" r="4" fill="#231f20"/>
<circle cx="528" cy="1030.6" r="4" fill="#231f20"/>
<circle cx="559" cy="1036.8" r="4" fill="#231f20"/>
<polygon points="565.8,1063.9 554.1,1088.9 540.1,1073.9" fill="#231f20"/>
<path d="M482.8,1098.5 C505.7,1105.6 528.6,1093.4 547.1,1081.4" fill="none" stroke="#231f20" stroke-width="2.6"/>
<polygon points="484.5,1121.3 498.5,1133.2 486.1,1139.6" fill="#231f20"/>
<path d="M561.9,1175.4 C561.5,1174.0 561.0,1169.1 559.2,1167.0 C557.5,1164.9 555.1,1162.7 551.4,1162.6 C547.7,1162.5 540.6,1166.5 536.9,1166.5 C533.2,1166.5 531.0,1164.9 529.1,1162.6 C527.2,1160.3 526.8,1155.7 525.7,1152.5 C524.6,1149.3 524.6,1145.9 522.4,1143.6 C520.2,1141.3 516.0,1138.8 512.3,1138.6 C508.6,1138.4 503.3,1142.9 500.1,1142.5 C496.9,1142.1 494.2,1137.1 493.0,1136.0" fill="none" stroke="#231f20" stroke-width="2.3" stroke-linecap="round"/>
<text x="584" y="1036" font-size="33.6" font-weight="normal" text-anchor="start">Saline magmatic fluid</text>
<text x="584" y="1099" font-size="33.6" font-weight="normal" text-anchor="start">Liquid flow</text>
<text x="584" y="1162" font-size="33.6" font-weight="normal" text-anchor="start">Vapor flow</text>
<text x="1438" y="479" font-size="33.6" font-weight="normal" text-anchor="start">High sulfidation</text>
<text x="1490" y="513" font-size="33.6" font-weight="normal" text-anchor="start">(Au, Cu)</text>
<text x="1436" y="556" font-size="33.6" font-weight="normal" text-anchor="start">–acidic fluids</text>
<text x="1436" y="593" font-size="33.6" font-weight="normal" text-anchor="start">–advanced argillic</text>
<text x="1456" y="626" font-size="33.6" font-weight="normal" text-anchor="start">alteration</text>
<text x="1373" y="932" font-size="33.6" font-weight="bold" text-anchor="start">Porphyry Cu, (Mo, Au)</text>
<text x="369" y="420" font-size="33.6" font-weight="normal" text-anchor="start" transform="rotate(14 369 420)">Low sulfidation</text>
<text x="409" y="470" font-size="33.6" font-weight="normal" text-anchor="start" transform="rotate(14 409 470)">(Au, Ag)</text>
<text x="332" y="510" font-size="33.6" font-weight="normal" text-anchor="start" transform="rotate(14 332 510)">–Neutral fluids</text>
<text x="323" y="545" font-size="33.6" font-weight="normal" text-anchor="start" transform="rotate(14 323 545)">–Adularia, sericite</text>
<text x="332" y="590" font-size="33.6" font-weight="normal" text-anchor="start" transform="rotate(14 332 590)">alteration</text>
<text font-size="33.6" x="707.1 716.2 728.7 734.8 741.3 748.2 765.7" y="496.2 475.7 461.8 457.5 454.0 450.9 444.5" rotate="-66 -48 -36 -28 -24 -20 -18">Boiling</text>
<text x="802" y="515" font-size="33.6" font-weight="normal" text-anchor="start" transform="rotate(47 802 515)">Fluid</text>
<text font-size="33.6" x="775.5 789.7 803.7 817.5 824.4 832.5 845.8 851.1 856.4 868.0 880.8 887.1 892.1 904.5" y="545.3 557.4 569.8 582.4 588.7 596.4 609.5 614.8 620.1 632.1 645.8 652.7 658.2 672.2" rotate="40.5 41.4 42.3 43.0 43.6 44.3 45.0 45.3 45.9 46.8 47.5 47.9 48.6 49.5">neutralization</text>
<text x="978" y="420" font-size="33.6" font-weight="normal" text-anchor="start" transform="rotate(24 978 420)">200°</text>
<text x="1013" y="499" font-size="33.6" font-weight="normal" text-anchor="start" transform="rotate(43 1013 499)">300°</text>
<text x="1318" y="481" font-size="33.6" font-weight="normal" text-anchor="start" transform="rotate(-75 1318 481)">300°</text>
<text x="1342" y="694" font-size="33.6" font-weight="normal" text-anchor="start" transform="rotate(-70 1342 694)">600°</text>
<text x="987" y="966" font-size="33.6" font-weight="normal" text-anchor="start" transform="rotate(-80 987 966)">600°</text>
<text font-size="33" x="74 86.8 95.6 100.2 109.4 118.9 124.7 128.7 137.6 142.7 156.2 166.9 172.3 183.4" y="765 789.3 805.4 813.4 829.2 844.9 854.3 860.4 874.3 881.9 901.5 916.5 923.9 938.5" rotate="62.3 61.1 60.4 59.7 58.8 58.1 57.6 57.0 56.3 55.5 54.4 53.7 53.0 52.3">Meteoric&#160;water</text>
</g></svg></body></html>
